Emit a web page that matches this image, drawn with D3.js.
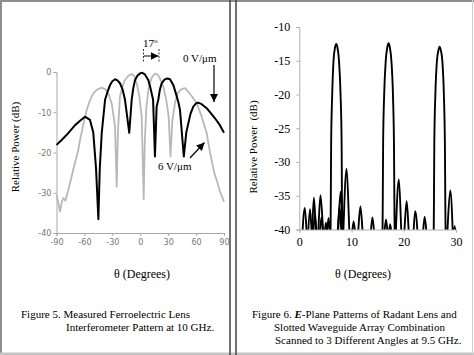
<!DOCTYPE html>
<html><head><meta charset="utf-8">
<script src="https://cdn.jsdelivr.net/npm/d3@7"></script>
<style>
html,body{margin:0;padding:0;background:#fff;}
svg{display:block;}
</style></head><body>
<svg id="c" width="474" height="355"></svg>
<script>
// ---------- Figure 5 data ----------
const leftXTicks = [-90, -60, -30, 0, 30, 60, 90];
const leftYTicks = [0, -10, -20, -30, -40];
// 0 V/um (black)
const theta0V = [-90,-85,-79,-70,-64,-59.4,-54,-50.5,-47.5,-45,-43.5,-41.4,-37.8,-35,-32.4,-30,-27.1,-24.5,-21.8,-19,-16.4,-15,-11.8,-10.5,-9.2,-7.5,-5.6,-3,0,2.2,5,8.6,11,13.8,15.8,17.6,19.4,21,23,26,29,32,35.5,38.5,41,42.7,46.8,49.5,51.7,54,57,60,62.1,66,71.4,76,80.3,85,90];
const db0V    = [-18.1,-17,-15.6,-13.2,-12,-11.1,-11.9,-15,-24,-36.6,-24,-15.2,-6.9,-4.8,-3.2,-2.3,-1.8,-2.1,-2.8,-4.3,-6.9,-9.4,-15.1,-11,-6.9,-4,-2.0,-0.9,-0.3,-0.2,-0.6,-2.0,-4,-6.9,-21,-8.6,-6.9,-4.5,-2.8,-1.9,-1.6,-1.8,-3.2,-5.5,-7.5,-9.4,-21,-15,-12.7,-10.4,-8.6,-7.8,-7.6,-8.0,-9.0,-10.3,-11.5,-13.0,-15.1];
// 6 V/um (gray)
const theta6V = [-90,-88,-86.2,-84.5,-82.7,-80.5,-77.3,-72,-66.6,-64.7,-61,-57.5,-54,-50.4,-46,-41.4,-37.5,-34.3,-30.5,-27.1,-25.3,-24,-21.8,-19,-16.4,-12.5,-9.2,-6.5,-3.8,-1,1.5,3.7,4.8,6.5,9,12,14.5,16.4,19.5,22,24.8,28,30.5,32.5,34.5,37.5,40.5,44,48,51.7,56,60.7,66,71.4,75,79.5,83,85.7,88,90];
const db6V    = [-30.5,-32.5,-34.7,-32.5,-31.3,-32,-29.3,-24.3,-19.4,-16.9,-12.8,-9.4,-7,-5.3,-4.3,-3.9,-4.3,-5.3,-8,-13.6,-28.5,-15,-6.1,-3.5,-2.0,-0.9,-0.5,-1.0,-2.8,-6,-11,-31.6,-18,-9,-4,-1.6,-0.7,-0.4,-0.9,-2,-3.6,-7,-11,-21,-12,-7.5,-5.2,-4.3,-4.0,-4.9,-6.2,-7.8,-11.1,-15.2,-20,-25,-27.5,-29.7,-31,-32.2];

// ---------- Figure 6 data ----------
const rightXTicks = [0, 10, 20, 30];
const rightYTicks = [-10, -15, -20, -25, -30, -35, -40];
// pattern scanned to ~7 degrees
const thetaScanA = [0.5,1.05,1.6,2.3,2.8,3.35,3.45,4.05,4.75,5.95,6.1,6.3,6.55,6.85,7.08,7.3,7.6,7.9,8.1,8.25,8.3,9.06,9.8,11.05,11.7,12.35,16.9,17.4,17.85];
const dbScanA    = [-42,-36.8,-42,-42,-35.3,-42,-42,-34.9,-42,-44,-27,-20,-15,-13,-12.5,-13,-15,-20,-27,-44,-43,-31,-43,-42,-36.6,-42,-42,-39.2,-42];
// pattern scanned to ~17 degrees
const thetaScanB = [1.6,2.05,2.55,3.7,4.25,4.75,5.1,5.6,6.05,7.25,7.9,8.55,13.45,14.0,14.55,15.9,16.05,16.25,16.55,16.85,17.1,17.33,17.63,17.93,18.12,18.3,18.35,19.06,19.75,19.95,20.55,21.15,21.65,22.2,22.75];
const dbScanB    = [-42,-37,-42,-42,-38.2,-42,-42,-38.3,-42,-42,-34.4,-42,-42,-38.2,-42,-44,-27,-20,-15,-13,-12.4,-13,-15,-20,-27,-44,-43,-32.6,-43,-42,-35.8,-42,-42,-37.3,-42];
// pattern scanned to ~27 degrees
const thetaScanC = [2.55,3.0,3.45,4.65,5.1,5.55,7.15,7.7,8.25,9.85,10.4,10.95,16.05,16.6,17.15,23.45,24.0,24.55,25.7,25.85,26.05,26.35,26.65,26.85,27.08,27.38,27.68,27.87,28.05,28.15,28.9,29.5,29.45,29.75,30.1];
const dbScanC    = [-42,-37.8,-42,-42,-39,-42,-42,-36.6,-42,-42,-38.8,-42,-42,-38.5,-42,-42,-38.1,-42,-44,-27,-20,-15,-13.4,-12.9,-13.4,-15,-20,-27,-44,-43,-34.2,-43,-42,-39.5,-42];

// ---------- drawing ----------
const svg = d3.select('#c');
const SERIF = "'Liberation Serif','Times New Roman',serif";
const NARROW = "'Liberation Sans Narrow','Arial Narrow','DejaVu Sans Condensed',sans-serif";

svg.append('rect').attr('width',474).attr('height',355).attr('fill','#fff');
// frame bands
svg.append('rect').attr('x',0).attr('y',0).attr('width',474).attr('height',2).attr('fill','#8e8e8e');
svg.append('rect').attr('x',0).attr('y',0).attr('width',2).attr('height',355).attr('fill','#8e8e8e');
svg.append('rect').attr('x',0).attr('y',352.5).attr('width',474).attr('height',2.5).attr('fill','#c4c4c4');
svg.append('line').attr('x1',472.5).attr('x2',472.5).attr('y1',0).attr('y2',355).attr('stroke','#cfcfcf');
svg.append('line').attr('x1',230).attr('x2',230).attr('y1',0).attr('y2',355).attr('stroke','#444').attr('stroke-width',1.5);
svg.append('line').attr('x1',236).attr('x2',236).attr('y1',0).attr('y2',355).attr('stroke','#444').attr('stroke-width',1.5);

// ----- left chart -----
const xL = d3.scaleLinear().domain([-90,90]).range([56.5,224]);
const yL = d3.scaleLinear().domain([-40,0]).range([233,72]);
const gL = svg.append('g');
const axXL = gL.append('g').attr('transform',`translate(0,${yL(-40)})`)
  .call(d3.axisBottom(xL).tickValues(leftXTicks).tickSize(3).tickPadding(3).tickFormat(d3.format('d')));
const axYL = gL.append('g').attr('transform',`translate(${xL(-90)},0)`)
  .call(d3.axisLeft(yL).tickValues(leftYTicks).tickSize(3).tickPadding(2).tickFormat(d3.format('d')));
[axXL, axYL].forEach(a=>{
  a.selectAll('path,line').attr('stroke','#a8a8a8');
  a.selectAll('text').attr('fill','#777').style('font-family',NARROW).style('font-size','9px');
});
axXL.selectAll('text').text(d=>d<0?'-'+(-d):d);
axYL.selectAll('text').text(d=>d<0?'-'+(-d):d);

const lineL = d3.line().x(d=>xL(d[0])).y(d=>yL(d[1]));
gL.append('path').datum(theta6V.map((t,i)=>[t,db6V[i]]))
  .attr('d',lineL).attr('fill','none').attr('stroke','#b8b8b8').attr('stroke-width',1.8).attr('stroke-linejoin','round');
gL.append('path').datum(theta0V.map((t,i)=>[t,db0V[i]]))
  .attr('d',lineL).attr('fill','none').attr('stroke','#000').attr('stroke-width',2).attr('stroke-linejoin','round');

// markers
const defs = svg.append('defs');
defs.append('marker').attr('id','ah').attr('viewBox','0 0 10 10').attr('refX',10).attr('refY',5)
  .attr('markerWidth',8).attr('markerHeight',8).attr('markerUnits','userSpaceOnUse').attr('orient','auto')
  .append('path').attr('d','M0,0L10,5L0,10Z').attr('fill','#000');

// annotations
gL.append('text').attr('x',143).attr('y',47).style('font-family',SERIF).style('font-size','11px').text('17')
  .append('tspan').attr('dy',-4).style('font-size','7px').text('o');
gL.append('line').attr('x1',143.5).attr('x2',143.5).attr('y1',49).attr('y2',63).attr('stroke','#000').attr('stroke-width',0.8).attr('stroke-dasharray','2,1.5');
gL.append('line').attr('x1',159).attr('x2',159).attr('y1',49).attr('y2',63).attr('stroke','#000').attr('stroke-width',0.8).attr('stroke-dasharray','2,1.5');
gL.append('line').attr('x1',144).attr('x2',158.5).attr('y1',56).attr('y2',56).attr('stroke','#000').attr('stroke-width',1).attr('marker-end','url(#ah)');
gL.append('text').attr('x',183).attr('y',62).style('font-family',SERIF).style('font-size','11px').text('0 V/μm');
gL.append('line').attr('x1',214).attr('x2',214).attr('y1',65).attr('y2',102).attr('stroke','#000').attr('stroke-width',1.2).attr('marker-end','url(#ah)');
gL.append('text').attr('x',158).attr('y',170).style('font-family',SERIF).style('font-size','11px').text('6 V/μm');
gL.append('line').attr('x1',190).attr('x2',204.5).attr('y1',158).attr('y2',142.5).attr('stroke','#000').attr('stroke-width',1.2).attr('marker-end','url(#ah)');

gL.append('text').attr('transform','translate(19,147) rotate(-90)').attr('text-anchor','middle')
  .style('font-family',SERIF).style('font-size','11px').text('Relative Power (dB)');
gL.append('text').attr('x',142).attr('y',278).attr('text-anchor','middle')
  .style('font-family',SERIF).style('font-size','12px').text('θ (Degrees)');
gL.append('text').attr('x',21).attr('y',318).style('font-family',SERIF).style('font-size','11px').text('Figure 5. Measured Ferroelectric Lens');
gL.append('text').attr('x',66).attr('y',331).style('font-family',SERIF).style('font-size','11px').text('Interferometer Pattern at 10 GHz.');

// ----- right chart -----
const xR = d3.scaleLinear().domain([0,30]).range([299.3,456]);
const yR = d3.scaleLinear().domain([-40,-10]).range([229.5,27]);
const gR = svg.append('g');
const axXR = gR.append('g').attr('transform',`translate(0,${yR(-40)})`)
  .call(d3.axisBottom(xR).tickValues(rightXTicks).tickSize(3).tickPadding(5));
const axYR = gR.append('g').attr('transform',`translate(${xR(0)},0)`)
  .call(d3.axisLeft(yR).tickValues(rightYTicks).tickSize(3).tickPadding(6));
[axXR, axYR].forEach(a=>{
  a.selectAll('path,line').attr('stroke','#b0b0b0');
  a.selectAll('text').attr('fill','#000').style('font-family',SERIF).style('font-size','12px');
});
axYR.selectAll('text').text(d=>'-'+(-d));

defs.append('clipPath').attr('id','clipR').append('rect')
  .attr('x',xR(0)).attr('y',yR(-10)-5).attr('width',xR(30)-xR(0)+4).attr('height',yR(-40)-yR(-10)+5);
const lineR = d3.line().x(d=>xR(d[0])).y(d=>yR(d[1])).curve(d3.curveMonotoneX);
const series = [[thetaScanA,dbScanA],[thetaScanB,dbScanB],[thetaScanC,dbScanC]];
gR.append('g').attr('clip-path','url(#clipR)').selectAll('path').data(series).join('path')
  .attr('d',s=>lineR(s[0].map((t,i)=>[t,s[1][i]])))
  .attr('fill','none').attr('stroke','#000').attr('stroke-width',1.9).attr('stroke-linejoin','round');

gR.append('text').attr('transform','translate(257,147) rotate(-90)').attr('text-anchor','middle')
  .style('font-family',SERIF).style('font-size','11px').style('white-space','pre').text('Relative Power  (dB)');
gR.append('text').attr('x',363).attr('y',278).attr('text-anchor','middle')
  .style('font-family',SERIF).style('font-size','12px').text('θ (Degrees)');
const c1 = gR.append('text').attr('x',252).attr('y',318).style('font-family',SERIF).style('font-size','11px');
c1.append('tspan').text('Figure 6. ');
c1.append('tspan').style('font-weight','bold').style('font-style','italic').text('E');
c1.append('tspan').text('-Plane Patterns of Radant Lens and');
gR.append('text').attr('x',274).attr('y',331).style('font-family',SERIF).style('font-size','11px').text('Slotted Waveguide Array Combination');
gR.append('text').attr('x',275).attr('y',344).style('font-family',SERIF).style('font-size','11px').text('Scanned to 3 Different Angles at 9.5 GHz.');
</script>
</body></html>
